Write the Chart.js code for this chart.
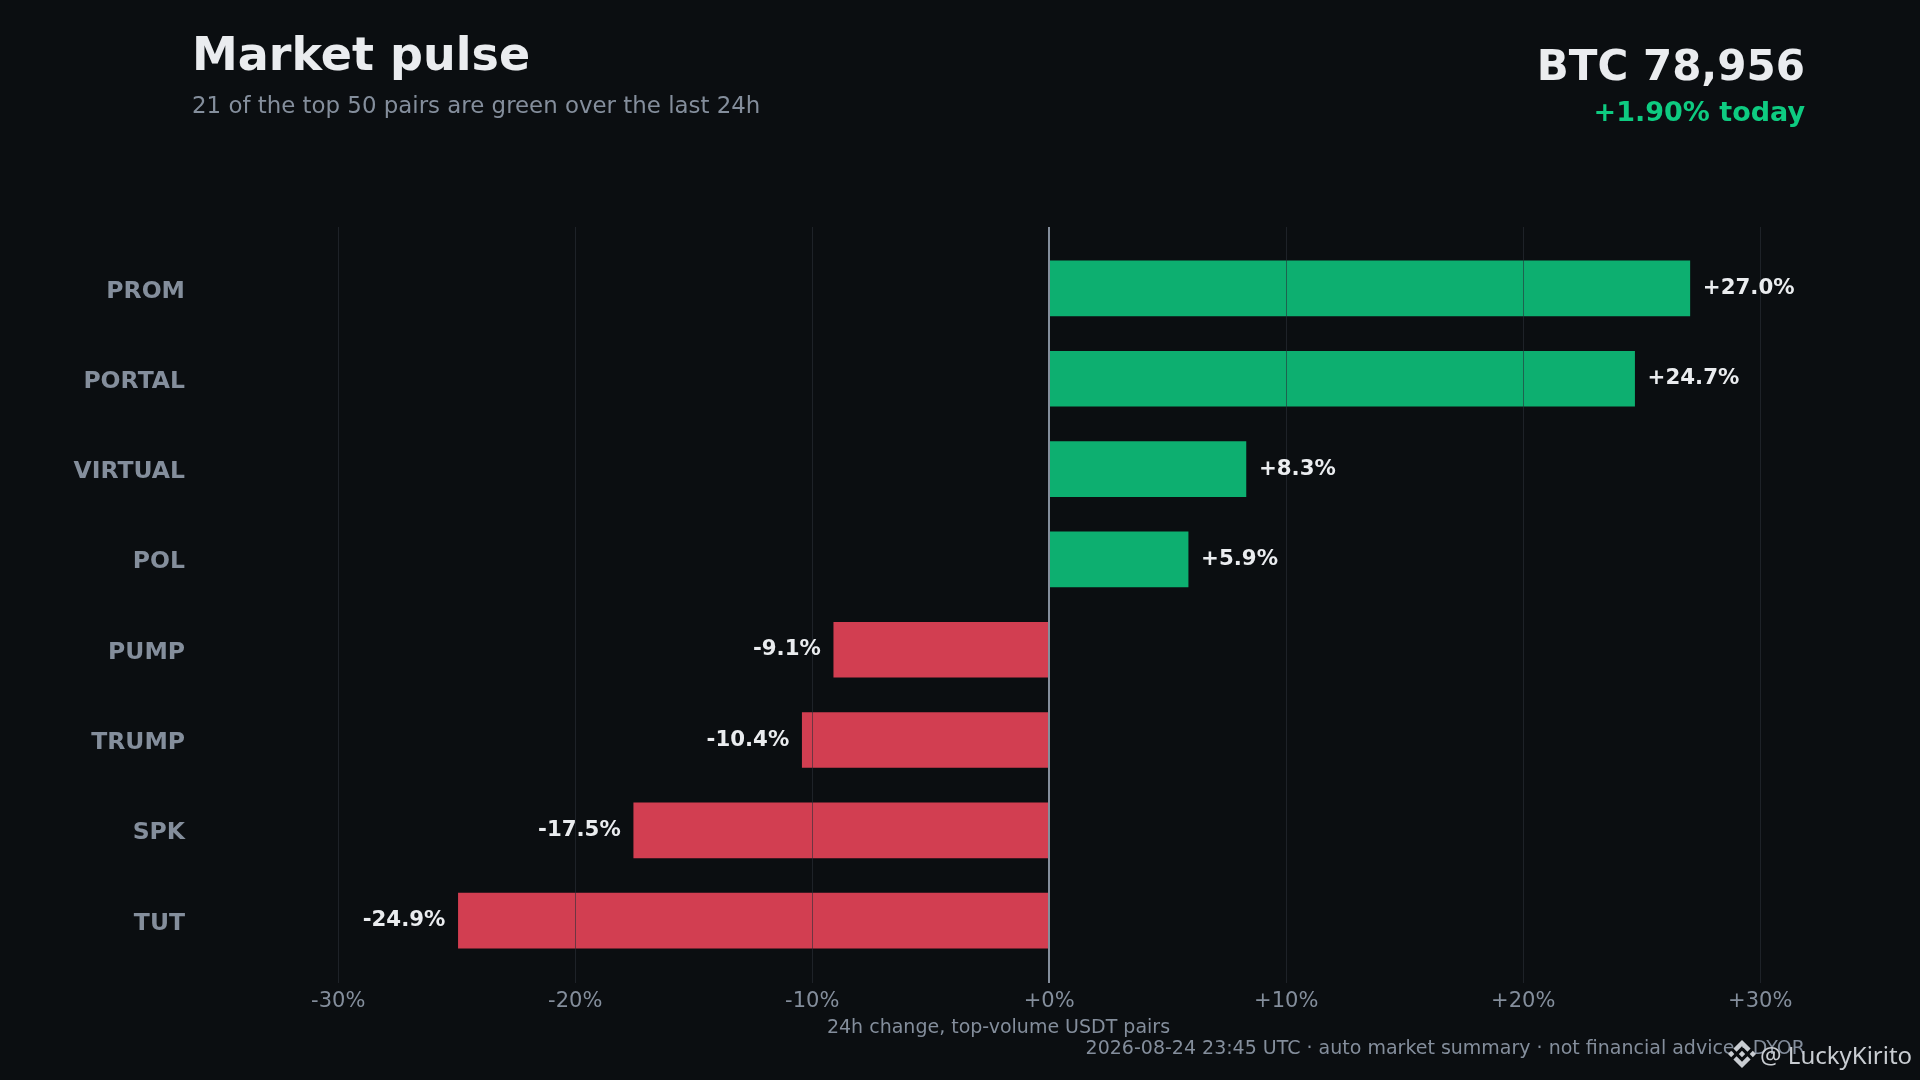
<!DOCTYPE html>
<html>
<head>
<meta charset="utf-8">
<title>Market pulse</title>
<script src="https://cdn.jsdelivr.net/npm/chart.js@4"></script>
<style>
  html, body { margin: 0; padding: 0; background: #0b0e11; }
  body { width: 1920px; height: 1080px; position: relative; overflow: hidden; font-family: "DejaVu Sans", sans-serif; }
  canvas { position: absolute; left: 0; top: 0; }
  .txt { position: absolute; white-space: nowrap; line-height: 1; }
  #title { left: 192px; top: 31px; font-size: 46px; font-weight: bold; color: #eaecef; }
  #subtitle { left: 192px; top: 94px; font-size: 22.9px; color: #848e9c; }
  #btc { right: 115px; top: 45px; font-size: 42px; font-weight: bold; color: #eaecef; }
  #today { right: 115px; top: 98px; font-size: 27px; font-weight: bold; color: #0ecb81; }
  #footer { right: 115px; top: 1038px; font-size: 19px; color: #848e9c; }
  #mark { left: 1760px; top: 1043px; font-family: "Noto Sans", sans-serif; font-size: 24px; color: #c9cdd2; }
  #logo { position: absolute; left: 1728px; top: 1040px; width: 28px; height: 28px; fill: #c9cdd2; }
</style>
</head>
<body>
<canvas id="chart" width="1920" height="1080"></canvas>
<div class="txt" id="title">Market pulse</div>
<div class="txt" id="subtitle">21 of the top 50 pairs are green over the last 24h</div>
<div class="txt" id="btc">BTC 78,956</div>
<div class="txt" id="today">+1.90% today</div>
<div class="txt" id="footer">2026-08-24 23:45 UTC · auto market summary · not financial advice · DYOR</div>
<svg id="logo" viewBox="0 0 126.61 126.61">
  <path d="M38.73 53.2L63.31 28.62l24.59 24.59 14.3-14.3L63.31 0 24.43 38.9z"/>
  <path d="M0 63.31l14.3-14.3 14.3 14.3-14.3 14.3z"/>
  <path d="M38.73 73.41l24.58 24.58 24.59-24.59 14.31 14.29L63.31 126.61 24.41 87.73z"/>
  <path d="M98 63.31l14.3-14.3 14.31 14.3-14.31 14.3z"/>
  <path d="M77.83 63.3L63.31 48.78 52.59 59.5l-1.23 1.23-2.54 2.54 14.49 14.5 14.52-14.52z"/>
</svg>
<div class="txt" id="mark">@ LuckyKirito</div>

<script>
const categories = ["PROM", "PORTAL", "VIRTUAL", "POL", "PUMP", "TRUMP", "SPK", "TUT"];
const changes = [27.03, 24.7, 8.3, 5.86, -9.09, -10.42, -17.53, -24.93];
const xTicks = [-30, -20, -10, 0, 10, 20, 30];

const UP = "rgba(14,203,129,0.85)";
const DOWN = "rgba(246,70,93,0.85)";
const TEXT = "#eaecef";
const MUTED = "#848e9c";
const FONT = '"DejaVu Sans", sans-serif';

// signed value labels at the end of each bar
const valueLabels = {
  id: "valueLabels",
  afterDraw(chart) {
    const ctx = chart.ctx;
    const bars = chart.getDatasetMeta(0).data;
    ctx.save();
    ctx.font = "bold 21.3px " + FONT;
    ctx.fillStyle = TEXT;
    ctx.textBaseline = "middle";
    bars.forEach((bar, i) => {
      const v = changes[i];
      const label = (v >= 0 ? "+" : "") + v.toFixed(1) + "%";
      ctx.textAlign = v >= 0 ? "left" : "right";
      ctx.fillText(label, bar.x + (v >= 0 ? 13 : -13), bar.y);
    });
    ctx.restore();
  },
};

new Chart(document.getElementById("chart"), {
  type: "bar",
  data: {
    labels: categories,
    datasets: [
      {
        data: changes.map((v, i) => ({ x: v, y: i })),
        backgroundColor: changes.map((v) => (v >= 0 ? UP : DOWN)),
        barThickness: 55,
      },
    ],
  },
  options: {
    indexAxis: "y",
    responsive: false,
    animation: false,
    layout: { padding: { top: 227, right: 115, left: 0, bottom: 0 } },
    plugins: { legend: { display: false }, tooltip: { enabled: false } },
    scales: {
      x: {
        type: "linear",
        min: -36.17,
        max: 31.89,
        afterBuildTicks: (scale) => {
          scale.ticks = xTicks.map((value) => ({ value }));
        },
        afterFit: (scale) => {
          scale.height = 97;
        },
        border: { display: false },
        grid: {
          z: 1,
          drawTicks: false,
          color: (c) => (c.tick && c.tick.value === 0 ? MUTED : "rgba(43,49,57,0.6)"),
          lineWidth: (c) => (c.tick && c.tick.value === 0 ? 2 : 1),
        },
        ticks: {
          color: MUTED,
          padding: 6,
          maxRotation: 0,
          font: { family: FONT, size: 21 },
          callback: (v) => (v >= 0 ? "+" : "") + v + "%",
        },
        title: {
          display: true,
          text: "24h change, top-volume USDT pairs",
          color: MUTED,
          font: { family: FONT, size: 19 },
          padding: { top: 0, bottom: 41 },
        },
      },
      y: {
        type: "linear",
        reverse: true,
        offset: false,
        min: -0.68,
        max: 7.69,
        afterBuildTicks: (scale) => {
          scale.ticks = categories.map((_, i) => ({ value: i }));
        },
        afterFit: (scale) => {
          scale.width = 192;
        },
        border: { display: false },
        grid: { display: false, drawTicks: false },
        ticks: {
          color: MUTED,
          padding: 7,
          labelOffset: 3,
          font: { family: FONT, size: 23.5, weight: "bold" },
          callback: (v) => categories[v],
        },
      },
    },
  },
  plugins: [valueLabels],
});
</script>
</body>
</html>
